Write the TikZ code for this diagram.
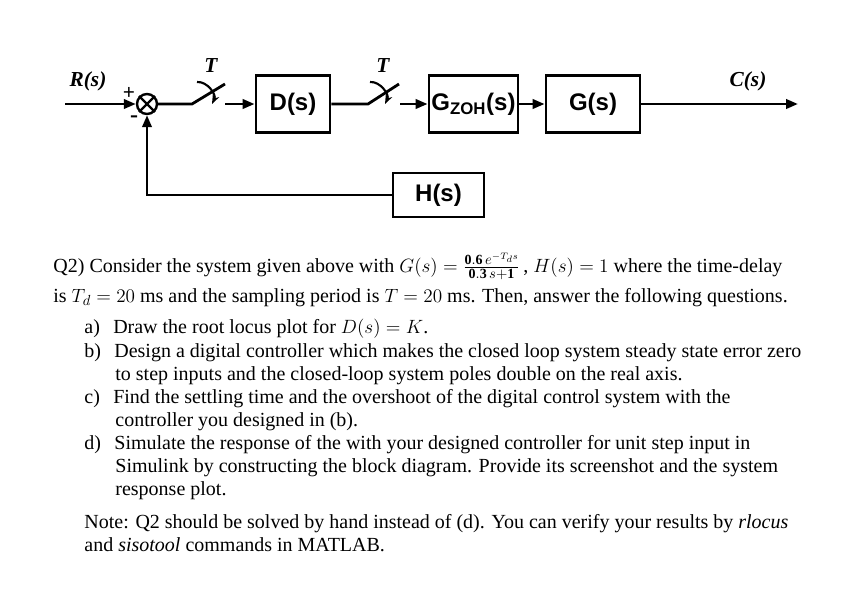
\documentclass[tikz,border=0pt]{standalone}
\usepackage{fontspec}
\setmainfont{Liberation Serif}
\newfontfamily\blk{Liberation Sans}
\usetikzlibrary{arrows.meta}
\begin{document}
\begin{tikzpicture}[x=0.75pt,y=-0.75pt,line width=2.1pt,
  blkbox/.style={draw,minimum width=#1,font=\blk\bfseries\fontsize{18}{20}\selectfont,inner sep=0pt},
  arr/.style={-{Triangle[length=9pt,width=7pt]}},
  txt/.style={anchor=base west,inner sep=0pt,font=\fontsize{15}{17}\selectfont},
  lbl/.style={font=\bfseries\itshape\fontsize{16}{18}\selectfont}]
\useasboundingbox (0,0) rectangle (866,593);
\node[draw,circle,minimum size=15pt,inner sep=0pt,line width=1.8pt] (sum) at (147,104) {};
\draw[line width=1.8pt] (sum.north west)--(sum.south east) (sum.north east)--(sum.south west);
\coordinate (in) at (65,104);
\draw[arr] (in)--(sum.west);
\node[lbl] (R) at (88,81) {R(s)};
\node[font=\bfseries\fontsize{16}{18}\selectfont] (p) at (129,93) {+};
\node[font=\bfseries\fontsize{18}{18}\selectfont] (m) at (134,119) {-};
\node[blkbox=74*0.75pt,minimum height=57*0.75pt] (D) at (293,104) {D(s)};
\node[blkbox=89*0.75pt,minimum height=57*0.75pt] (Z) at (473.5,104) {G\textsubscript{ZOH}(s)};
\node[blkbox=94*0.75pt,minimum height=57*0.75pt] (G) at (593,104) {G(s)};
\node[blkbox=91*0.75pt,minimum height=44*0.75pt] (H) at (438.5,195) {H(s)};
% switch 1
\coordinate (s1a) at (192,104); \coordinate (s1b) at (225,84); \coordinate (s1c) at (225,104);
\draw (sum.east)--(s1a)--(s1b);
\draw[line width=1.6pt,-{Stealth[length=7pt]}] (197,82) to[bend left=60] (212,104);
\draw[arr] (s1c)--(D.west);
\node[lbl] (T1) at (211,66) {T};
% switch 2
\coordinate (s2a) at (368,104); \coordinate (s2b) at (399,84); \coordinate (s2c) at (400,104);
\draw (D.east)--(s2a)--(s2b);
\draw[line width=1.6pt,-{Stealth[length=7pt]}] (370,82) to[bend left=60] (385,104);
\draw[arr] (s2c)--(Z.west);
\node[lbl] (T2) at (383,66) {T};
\draw[arr] (Z.east)--(G.west);
\coordinate (out) at (798,104);
\draw[arr] (G.east)--(out);
\node[lbl] (C) at (748,81) {C(s)};
\draw[arr] (H.west)-|(sum.south);
% text
\node[txt] (l1) at (52,272) {Q2) Consider the system given above with $G(s)=\frac{\mathbf{0.6}\,e^{-T_d s}}{\mathbf{0.3}\,s+\mathbf{1}}$\,, $H(s)=1$ where the time-delay};
\node[txt] (l2) at (52,302) {is $T_d=20$ ms and the sampling period is $T=20$ ms. Then, answer the following questions.};
\node[txt] (a) at (83,333) {a)\hspace{10pt}Draw the root locus plot for $D(s)=K$.};
\node[txt] (b) at (83,357) {b)\hspace{10pt}Design a digital controller which makes the closed loop system steady state error zero};
\node[txt] (b2) at (114,380) {to step inputs and the closed-loop system poles double on the real axis.};
\node[txt] (c) at (83,403) {c)\hspace{10pt}Find the settling time and the overshoot of the digital control system with the};
\node[txt] (c2) at (114,426) {controller you designed in (b).};
\node[txt] (d) at (83,449) {d)\hspace{10pt}Simulate the response of the with your designed controller for unit step input in};
\node[txt] (d2) at (114,472) {Simulink by constructing the block diagram. Provide its screenshot and the system};
\node[txt] (d3) at (114,495) {response plot.};
\node[txt] (n1) at (83,528) {Note: Q2 should be solved by hand instead of (d). You can verify your results by \textit{rlocus}};
\node[txt] (n2) at (83,551) {and \textit{sisotool} commands in MATLAB.};
\end{tikzpicture}
\end{document}
